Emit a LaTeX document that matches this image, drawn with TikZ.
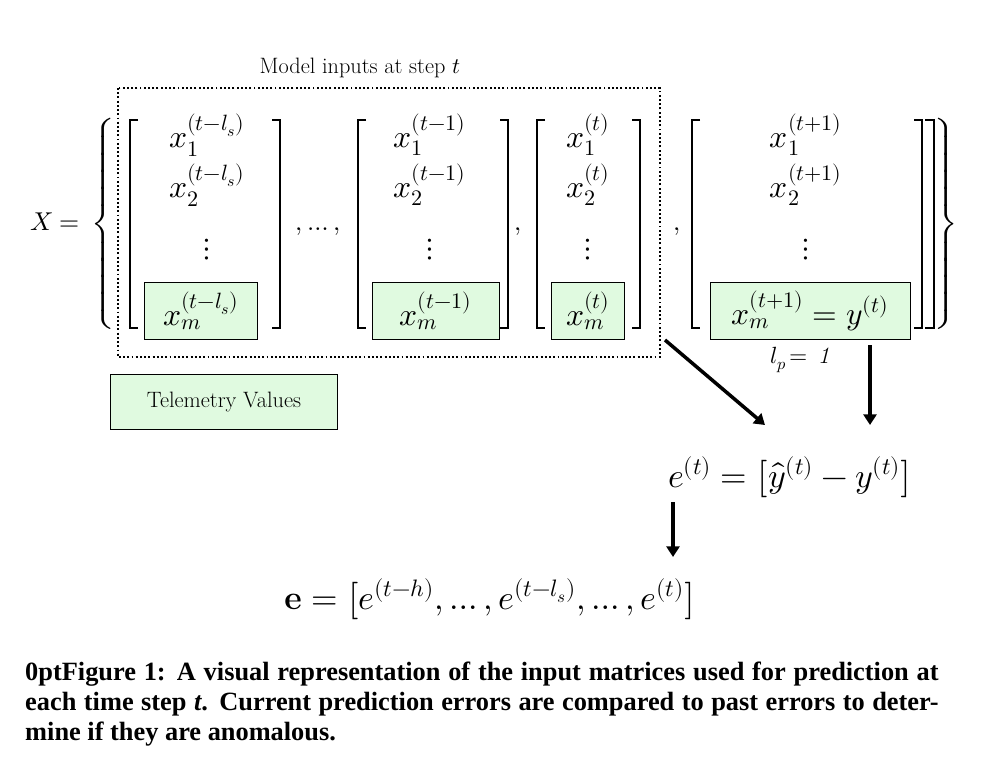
\documentclass[tikz,border=0pt]{standalone}
\usepackage{fontspec}
\usepackage{unicode-math}
\newfontfamily\capfont{Liberation Serif}
\usetikzlibrary{arrows.meta}
\definecolor{lgreen}{RGB}{224,250,224}
\begin{document}
\begin{tikzpicture}[x=0.03cm,y=-0.03cm,
  ent/.style={font=\fontsize{27}{30}\selectfont},
  gbox/.style={draw,fill=lgreen,line width=0.7pt,minimum height=1.7cm,inner sep=1pt},
  brk/.style={line width=0.9pt},
  arr/.style={line width=3pt,-{Triangle[length=9pt,width=11pt]}}]
\useasboundingbox (0,0) rectangle (999,772);
\node[font=\fontsize{19}{21}\selectfont] (title) at (360,68) {Model inputs at step $t$};
\draw[dotted,line width=1.6pt] (118,88) rectangle (660,357);
\node[font=\fontsize{22}{24}\selectfont] (X) at (55,222) {$X=$};
\node[font=\fontsize{22}{24}\selectfont,inner sep=0pt] (lb) at (104,224) {$\left\{\vcenter{\hbox{\rule{0pt}{6.5cm}}}\right.$};
\node[font=\fontsize{22}{24}\selectfont,inner sep=0pt] (rb) at (945,224) {$\left.\vcenter{\hbox{\rule{0pt}{6.5cm}}}\right\}$};
% matrix brackets
\foreach \l/\r in {130/280,358/508,537/640,692/922}{
  \draw[brk] (\l+8,120)--(\l,120)--(\l,328)--(\l+8,328);
  \draw[brk] (\r-8,120)--(\r,120)--(\r,328)--(\r-8,328);}
\draw[brk] (925,120)--(934,120)--(934,328)--(925,328);
% matrix 1
\node[ent] (a1) at (207,135) {$x_1^{(t-l_s)}$};
\node[ent] (a2) at (207,185) {$x_2^{(t-l_s)}$};
\node[ent] (a3) at (207,250) {$\vdots$};
\node[gbox,ent,minimum width=3.4cm] (am) at (201,311) {$x_m^{(t-l_s)}$};
\node[font=\fontsize{22}{24}\selectfont] (c1) at (318,232) {$,\ldots,$};
% matrix 2
\node[ent] (b1) at (430,135) {$x_1^{(t-1)}$};
\node[ent] (b2) at (430,185) {$x_2^{(t-1)}$};
\node[ent] (b3) at (430,250) {$\vdots$};
\node[gbox,ent,minimum width=3.8cm] (bm) at (436,311) {$x_m^{(t-1)}$};
\node[font=\fontsize{22}{24}\selectfont] (c2) at (518,232) {$,$};
% matrix 3
\node[ent] (d1) at (588,135) {$x_1^{(t)}$};
\node[ent] (d2) at (588,185) {$x_2^{(t)}$};
\node[ent] (d3) at (588,250) {$\vdots$};
\node[gbox,ent,minimum width=2.2cm] (dm) at (588,311) {$x_m^{(t)}$};
\node[font=\fontsize{22}{24}\selectfont] (c3) at (677,232) {$,$};
% matrix 4
\node[ent] (f1) at (806,135) {$x_1^{(t+1)}$};
\node[ent] (f2) at (806,185) {$x_2^{(t+1)}$};
\node[ent] (f3) at (806,250) {$\vdots$};
\node[gbox,ent,minimum width=6cm] (fm) at (810,311) {$x_m^{(t+1)}=y^{(t)}$};
\node[font=\fontsize{20}{22}\selectfont] (lp) at (800,360) {$l_p\!=\,\mathit{1}$};
\node[draw,fill=lgreen,line width=0.7pt,minimum width=6.8cm,minimum height=1.65cm,font=\fontsize{19}{21}\selectfont] (tv) at (224,402) {Telemetry Values};
\node[font=\fontsize{29}{32}\selectfont] (err) at (790,478) {$e^{(t)}=\bigl[\hat y^{(t)}-y^{(t)}\bigr]$};
\node[font=\fontsize{29}{32}\selectfont] (evec) at (490,600) {$\mathbf{e}=\bigl[e^{(t-h)},\ldots,e^{(t-l_s)},\ldots,e^{(t)}\bigr]$};
\coordinate (s1) at (665,340); \coordinate (e1) at (765,425);
\coordinate (s2) at (870,345); \coordinate (e2) at (870,425);
\coordinate (s3) at (673,502); \coordinate (e3) at (673,557);
\draw[arr] (s1)--(e1);
\draw[arr] (s2)--(e2);
\draw[arr] (s3)--(e3);
\node[anchor=north west,text width=27.4cm,align=justify,font=\capfont\bfseries\fontsize{22.5}{25.5}\selectfont\hyphenpenalty=10000,inner sep=0pt] (cap) at (25,662)
 {Figure 1: A visual representation of the input matrices used for prediction at each time step \textit{t}. Current prediction errors are compared to past errors to determine if they are anomalous.};
\end{tikzpicture}
\end{document}
